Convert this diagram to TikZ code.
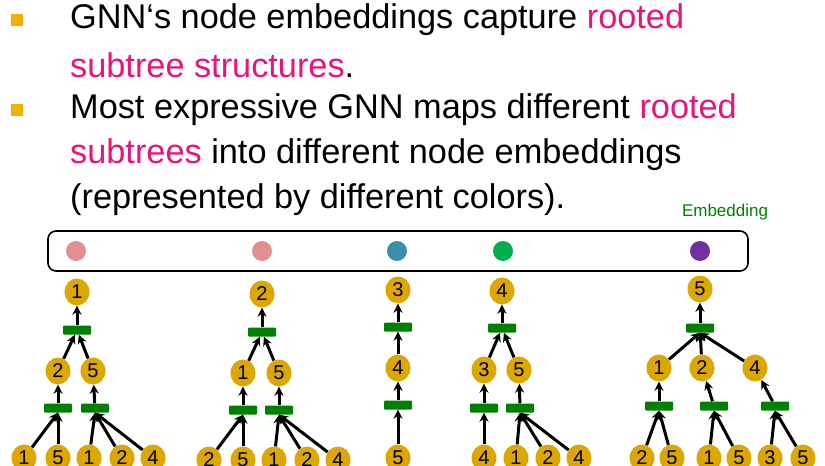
\documentclass[tikz,border=0pt]{standalone}
\usepackage{fontspec}
\setmainfont{Liberation Sans}
\newfontfamily\arialf{Liberation Sans}
\usetikzlibrary{shapes.geometric,arrows.meta}
\begin{document}
\begin{tikzpicture}[x=1pt,y=-1pt,
  nd/.style={ellipse,fill=orange!80!yellow!90!black,inner sep=0,minimum width=25,minimum height=27,font=\arialf\fontsize{20}{20}\selectfont},
  bar/.style={fill=green!50!black,inner sep=0,minimum width=28,minimum height=9,rounded corners=1},
  ar/.style={->,>={Stealth[length=9pt,width=9pt]},line width=3pt},
  bul/.style={fill=orange!90!yellow,minimum size=12,inner sep=0}]
\definecolor{pinkc}{HTML}{E8147A}
\definecolor{orange}{HTML}{F0A800}
\useasboundingbox (0,0) rectangle (825,466);
\tikzset{txt/.style={anchor=west,inner sep=0,font=\fontsize{34.3}{34.3}\selectfont}}
\node[bul] (b1) at (17,20) {};
\node[bul] (b2) at (17,110) {};
\node[txt] (t1) at (70,20) {GNN‘s node embeddings capture \textcolor{pinkc}{rooted}};
\node[txt] (t2) at (70,65) {\textcolor{pinkc}{subtree structures}.};
\node[txt] (t3) at (70,110) {Most expressive GNN maps different \textcolor{pinkc}{rooted}};
\node[txt] (t4) at (70,155) {\textcolor{pinkc}{subtrees} into different node embeddings};
\node[txt] (t5) at (70,200) {(represented by different colors).};
\node[text=green!50!black,font=\arialf\fontsize{17}{17}\selectfont] (em) at (725,212) {Embedding};
\draw[line width=1.6pt,rounded corners=8] (48,231) rectangle (748,271);
\fill[color={rgb,255:red,224;green,144;blue,144}] (76,251) circle (10);
\fill[color={rgb,255:red,224;green,144;blue,144}] (262,251) circle (10);
\fill[color={rgb,255:red,58;green,143;blue,168}] (397,251) circle (10);
\fill[color={rgb,255:red,0;green,176;blue,80}] (503,251) circle (10);
\fill[color={rgb,255:red,112;green,48;blue,160}] (700,251) circle (10);
% tree 1
\node[nd] (a) at (77,292) {1};
\node[bar] (ab) at (77,330) {};
\node[nd] (a1) at (58,371) {2};
\node[nd] (a2) at (93,371) {5};
\node[bar] (a1b) at (58,408) {};
\node[bar] (a2b) at (95,408) {};
\foreach \n/\x/\l in {a11/24/1,a12/58/5,a21/89/1,a22/122/2,a23/153/4}{\node[nd] (\n) at (\x,458) {\l};}
\draw[ar] (ab) -- (a);
\draw[ar] (a1) -- (ab); \draw[ar] (a2) -- (ab);
\draw[ar] (a1b) -- (a1); \draw[ar] (a2b) -- (a2);
\draw[ar] (a11) -- (a1b.south); \draw[ar] (a12) -- (a1b.south);
\draw[ar] (a21) -- (a2b.south); \draw[ar] (a22) -- (a2b.south); \draw[ar] (a23) -- (a2b.south);
% tree 2
\node[nd] (b) at (262,294) {2};
\node[bar] (bb) at (262,332) {};
\node[nd] (b1n) at (243,373) {1};
\node[nd] (b2n) at (279,373) {5};
\node[bar] (b1b) at (243,410) {};
\node[bar] (b2b) at (279,410) {};
\foreach \n/\x/\l in {b11/209/2,b12/243/5,b21/274/1,b22/307/2,b23/338/4}{\node[nd] (\n) at (\x,460) {\l};}
\draw[ar] (bb) -- (b);
\draw[ar] (b1n) -- (bb); \draw[ar] (b2n) -- (bb);
\draw[ar] (b1b) -- (b1n); \draw[ar] (b2b) -- (b2n);
\draw[ar] (b11) -- (b1b.south); \draw[ar] (b12) -- (b1b.south);
\draw[ar] (b21) -- (b2b.south); \draw[ar] (b22) -- (b2b.south); \draw[ar] (b23) -- (b2b.south);
% tree 3
\node[nd] (c) at (398,290) {3};
\node[bar] (cb) at (398,327) {};
\node[nd] (c1) at (398,368) {4};
\node[bar] (c1b) at (398,405) {};
\node[nd] (c11) at (398,458) {5};
\draw[ar] (cb) -- (c); \draw[ar] (c1) -- (cb); \draw[ar] (c1b) -- (c1); \draw[ar] (c11) -- (c1b);
% tree 4
\node[nd] (d) at (502,291) {4};
\node[bar] (db) at (502,328) {};
\node[nd] (d1) at (484,370) {3};
\node[nd] (d2) at (519,370) {5};
\node[bar] (d1b) at (484,408) {};
\node[bar] (d2b) at (520,408) {};
\foreach \n/\x/\l in {d11/484/4,d21/516/1,d22/548/2,d23/579/4}{\node[nd] (\n) at (\x,458) {\l};}
\draw[ar] (db) -- (d);
\draw[ar] (d1) -- (db); \draw[ar] (d2) -- (db);
\draw[ar] (d1b) -- (d1); \draw[ar] (d2b) -- (d2);
\draw[ar] (d11) -- (d1b);
\draw[ar] (d21) -- (d2b.south); \draw[ar] (d22) -- (d2b.south); \draw[ar] (d23) -- (d2b.south);
% tree 5
\node[nd] (e) at (700,289) {5};
\node[bar] (eb) at (700,328) {};
\node[nd] (e1) at (659,368) {1};
\node[nd] (e2) at (702,368) {2};
\node[nd] (e3) at (755,368) {4};
\node[bar] (e1b) at (659,406) {};
\node[bar] (e2b) at (714,406) {};
\node[bar] (e3b) at (775,406) {};
\foreach \n/\x/\l in {e11/642/2,e12/672/5,e21/709/1,e22/739/5,e31/770/3,e32/803/5}{\node[nd] (\n) at (\x,458) {\l};}
\draw[ar] (eb) -- (e);
\draw[ar] (e1) -- (eb.south); \draw[ar] (e2) -- (eb); \draw[ar] (e3) -- (eb.south);
\draw[ar] (e1b) -- (e1); \draw[ar] (e2b) -- (e2); \draw[ar] (e3b) -- (e3);
\draw[ar] (e11) -- (e1b.south); \draw[ar] (e12) -- (e1b.south);
\draw[ar] (e21) -- (e2b.south); \draw[ar] (e22) -- (e2b.south);
\draw[ar] (e31) -- (e3b.south); \draw[ar] (e32) -- (e3b.south);
\end{tikzpicture}
\end{document}
